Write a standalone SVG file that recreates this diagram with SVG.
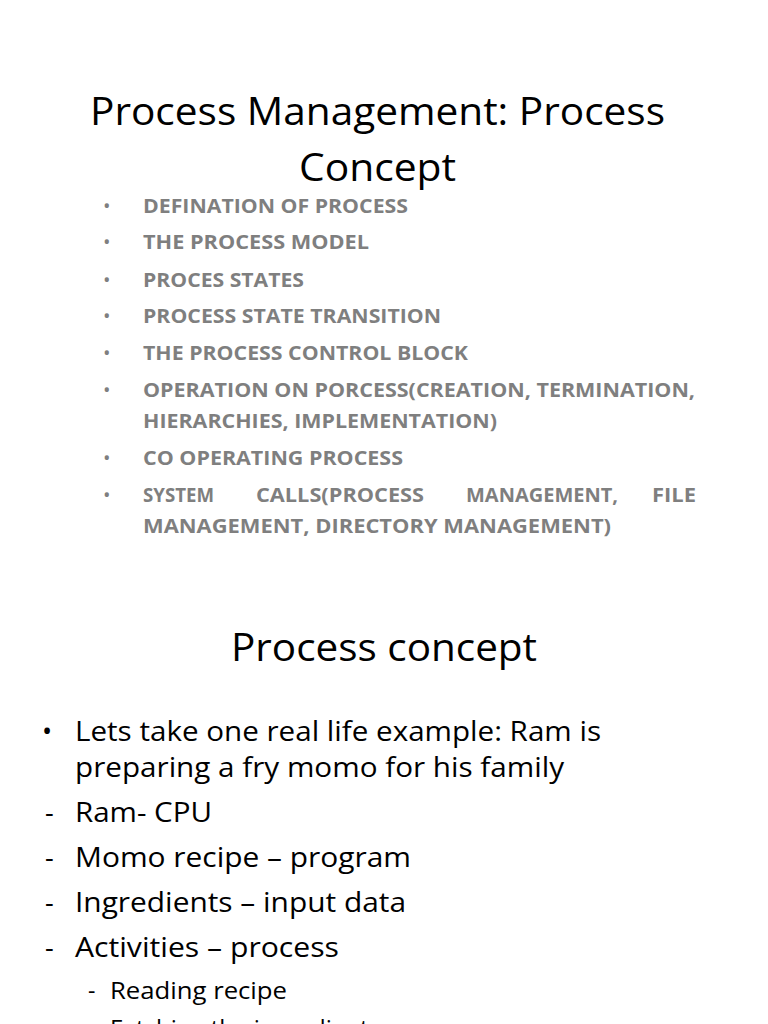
<svg xmlns="http://www.w3.org/2000/svg" width="768" height="1024" viewBox="0 0 768 1024">
<style>
text{font-family:"Open Sans","Liberation Sans",sans-serif;fill:#000}
.t{font-size:38px}
.b{font-size:20px;font-weight:bold;fill:#7f7f7f}
.d{font-size:20px;fill:#7f7f7f}
.m{font-size:27px}
.s{font-size:23px}
</style>
<rect width="768" height="1024" fill="#fff"/>
<text class="t" x="90" y="125" textLength="575" lengthAdjust="spacingAndGlyphs">Process Management: Process</text>
<text class="t" x="299" y="181" textLength="157" lengthAdjust="spacingAndGlyphs">Concept</text>
<g>
<text class="d" x="103" y="213">•</text><text class="b" x="143" y="213" textLength="265" lengthAdjust="spacingAndGlyphs">DEFINATION OF PROCESS</text>
<text class="d" x="103" y="249">•</text><text class="b" x="143" y="249" textLength="226" lengthAdjust="spacingAndGlyphs">THE PROCESS MODEL</text>
<text class="d" x="103" y="287">•</text><text class="b" x="143" y="287" textLength="161" lengthAdjust="spacingAndGlyphs">PROCES STATES</text>
<text class="d" x="103" y="323">•</text><text class="b" x="143" y="323" textLength="298" lengthAdjust="spacingAndGlyphs">PROCESS STATE TRANSITION</text>
<text class="d" x="103" y="360">•</text><text class="b" x="143" y="360" textLength="325" lengthAdjust="spacingAndGlyphs">THE PROCESS CONTROL BLOCK</text>
<text class="d" x="103" y="397">•</text><text class="b" x="143" y="397" textLength="552" lengthAdjust="spacingAndGlyphs">OPERATION ON PORCESS(CREATION, TERMINATION,</text>
<text class="b" x="143" y="428" textLength="354" lengthAdjust="spacingAndGlyphs">HIERARCHIES, IMPLEMENTATION)</text>
<text class="d" x="103" y="465">•</text><text class="b" x="143" y="465" textLength="260" lengthAdjust="spacingAndGlyphs">CO OPERATING PROCESS</text>
<text class="d" x="103" y="502">•</text><text class="b" x="143" y="502" textLength="71" lengthAdjust="spacingAndGlyphs">SYSTEM</text>
<text class="b" x="256" y="502" textLength="168" lengthAdjust="spacingAndGlyphs">CALLS(PROCESS</text>
<text class="b" x="466" y="502" textLength="152" lengthAdjust="spacingAndGlyphs">MANAGEMENT,</text>
<text class="b" x="652" y="502" textLength="44" lengthAdjust="spacingAndGlyphs">FILE</text>
<text class="b" x="143" y="533" textLength="468" lengthAdjust="spacingAndGlyphs">MANAGEMENT, DIRECTORY MANAGEMENT)</text>
</g>
<text class="t" x="231" y="661" textLength="306" lengthAdjust="spacingAndGlyphs">Process concept</text>
<g>
<text class="m" x="42" y="741">•</text><text class="m" x="75" y="741" textLength="526" lengthAdjust="spacingAndGlyphs">Lets take one real life example: Ram is</text>
<text class="m" x="75" y="777" textLength="489" lengthAdjust="spacingAndGlyphs">preparing a fry momo for his family</text>
<text class="m" x="45" y="822">-</text><text class="m" x="75" y="822" textLength="137" lengthAdjust="spacingAndGlyphs">Ram- CPU</text>
<text class="m" x="45" y="867">-</text><text class="m" x="75" y="867" textLength="336" lengthAdjust="spacingAndGlyphs">Momo recipe – program</text>
<text class="m" x="45" y="912">-</text><text class="m" x="75" y="912" textLength="331" lengthAdjust="spacingAndGlyphs">Ingredients – input data</text>
<text class="m" x="45" y="957">-</text><text class="m" x="75" y="957" textLength="264" lengthAdjust="spacingAndGlyphs">Activities – process</text>
<text class="s" x="88" y="999">-</text><text class="s" x="110" y="999" textLength="177" lengthAdjust="spacingAndGlyphs">Reading recipe</text>
<text class="s" x="88" y="1037">-</text><text class="s" x="110" y="1037" textLength="270" lengthAdjust="spacingAndGlyphs">Fetching the ingredients</text>
</g>
</svg>
